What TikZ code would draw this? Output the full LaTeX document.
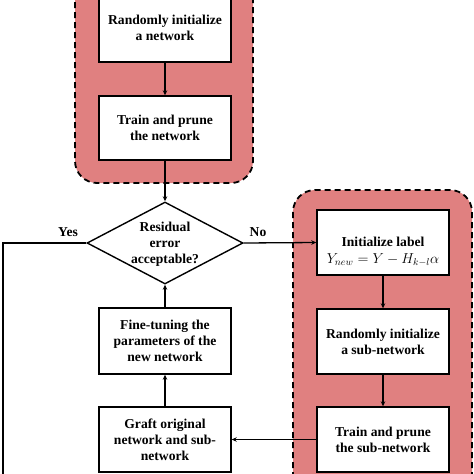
\documentclass[tikz,border=0pt]{standalone}
\usepackage{fontspec}
\setmainfont{Liberation Serif}
\usetikzlibrary{shapes.geometric,arrows.meta}
\definecolor{panelpink}{RGB}{224,128,128}
\begin{document}
\begin{tikzpicture}[x=1pt,y=-1pt,
  panel/.style={fill=panelpink,draw=black,line width=1.8pt,dash pattern=on 6pt off 4pt,rounded corners=22pt},
  stepbox/.style={draw=black,fill=white,line width=1.4pt,minimum width=132pt,inner sep=0pt,align=center,
     font=\fontsize{13.6}{16.2}\selectfont\bfseries},
  lbl/.style={font=\fontsize{13.6}{16.2}\selectfont\bfseries,inner sep=0pt},
  arr/.style={line width=1.3pt,-{Stealth[length=5pt,width=4.5pt]}},
  ln/.style={line width=1.3pt}]
\useasboundingbox (0,0) rectangle (474,474);
% panels
\path[panel] (75,-30) rectangle (253,183);
\path[panel] (293,190) rectangle (472,510);
% left column
\node[stepbox,minimum height=68pt] (b1) at (165,28) {Randomly initialize\\a network};
\node[stepbox,minimum height=64pt] (b2) at (165,128) {Train and prune\\the network};
\node[diamond,draw=black,line width=1.4pt,fill=white,minimum width=156pt,minimum height=82pt,inner sep=0pt,aspect=1.9] (d) at (165,243) {};
\node[lbl,align=center] (dt) at (165,244) {Residual\\error\\acceptable?};
\node[stepbox,minimum height=66pt] (b3) at (165,341) {Fine-tuning the\\parameters of the\\new network};
\node[stepbox,minimum height=65pt] (b4) at (165,439.5) {Graft original\\network and sub-\\network};
% right column
\node[stepbox,minimum height=65pt] (b5) at (383,242.5) {};
\node[lbl,align=center] (b5t) at (383,252) {Initialize label\\[1pt]\mdseries$Y_{new}=Y-H_{k-l}\alpha$};
\node[stepbox,minimum height=65pt] (b6) at (383,341.5) {Randomly initialize\\a sub-network};
\node[stepbox,minimum height=65pt] (b7) at (383,439.5) {Train and prune\\the sub-network};
% labels
\node[lbl] (yes) at (68,232) {Yes};
\node[lbl] (no) at (258,232) {No};
\coordinate (lc) at (3,243);
\coordinate (lend) at (3,490);
% connectors
\draw[arr] (b1) -- (b2);
\draw[arr] (b2) -- (d.north);
\draw[ln] (d.west) -- (lc) -- (lend);
\draw[arr] (d.east) -- (b5.west);
\draw[arr] (b5) -- (b6);
\draw[arr] (b6) -- (b7);
\draw[arr] (b7.west) -- (b4.east);
\draw[arr] (b4) -- (b3);
\draw[arr] (b3) -- (d.south);
\end{tikzpicture}
\end{document}
